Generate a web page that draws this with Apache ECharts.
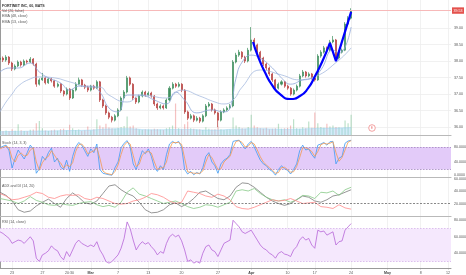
<!DOCTYPE html>
<html><head><meta charset="utf-8">
<script src="https://cdn.jsdelivr.net/npm/echarts@6/dist/echarts.min.js"></script>
<style>html,body{margin:0;padding:0;background:#fff}#c{width:466px;height:275px}</style>
</head><body><div id="c"></div>
<script>
// ---------- data ----------
const slotCount = 150;
const tickIdx = [4,14,23,30,39,49,60,72,83,95,104,116,128,139,148];
const tickLabels = ['23','27','20:30','Mar','7','13','20','27','Apr','10','17','24','May','8','12'];
const monthLabels = ['Mar','Apr','May'];

const opens = [38.05,38.09,38.03,38.12,37.94,37.76,37.85,37.97,37.88,38.00,
37.97,38.06,37.91,37.30,37.43,37.49,37.34,37.46,37.40,37.24,
37.30,37.09,37.00,37.15,36.88,37.12,37.30,37.43,37.27,37.21,
37.12,37.24,37.18,37.37,36.82,36.64,36.43,36.30,36.21,36.34,
36.52,36.88,37.06,37.49,37.30,36.88,36.76,36.94,37.06,36.97,
37.03,36.94,36.70,36.58,36.64,36.58,36.82,37.18,37.30,37.24,
37.30,37.12,36.46,36.27,36.34,36.21,36.27,36.18,36.34,36.64,
36.70,36.52,36.43,36.21,36.46,36.52,36.58,36.64,37.97,38.18,
38.27,38.12,38.00,38.33,38.64,38.49,38.27,38.09,37.91,37.79,
37.61,37.43,37.18,37.30,37.37,37.24,37.18,37.00,37.12,37.24,
37.55,37.67,37.55,37.61,37.49,37.43,38.15,38.27,38.40,38.33,
38.58,38.64,38.09,38.27,38.33,39.12,39.30];
const closes = [38.09,38.03,38.12,37.94,37.76,37.85,37.97,37.88,38.00,37.97,
38.06,37.91,37.30,37.43,37.49,37.34,37.46,37.40,37.24,37.30,
37.09,37.00,37.15,36.88,37.12,37.30,37.43,37.27,37.21,37.12,
37.24,37.18,37.37,36.82,36.64,36.43,36.30,36.21,36.34,36.52,
36.88,37.06,37.49,37.30,36.88,36.76,36.94,37.06,36.97,37.03,
36.94,36.70,36.58,36.64,36.58,36.82,37.18,37.30,37.24,37.30,
37.12,36.46,36.27,36.34,36.21,36.27,36.18,36.34,36.64,36.70,
36.52,36.43,36.21,36.46,36.52,36.58,36.64,37.97,38.18,38.27,
38.12,38.00,38.33,38.64,38.49,38.27,38.09,37.91,37.79,37.61,
37.43,37.18,37.30,37.37,37.24,37.18,37.00,37.12,37.24,37.55,
37.67,37.55,37.61,37.49,37.43,38.15,38.27,38.40,38.33,38.58,
38.64,38.09,38.27,38.33,39.12,39.30,39.53];
const highs = [38.16,38.14,38.18,38.15,37.98,37.90,38.02,38.01,38.05,38.04,
38.12,38.09,37.95,37.48,37.64,37.52,37.50,37.50,37.43,37.35,
37.33,37.12,37.20,37.18,37.16,37.36,37.50,37.46,37.31,37.25,
37.28,37.28,37.42,37.40,36.86,36.68,36.47,36.34,36.39,36.57,
36.93,37.12,37.55,37.53,37.33,36.92,36.98,37.11,37.10,37.08,
37.07,36.97,36.74,36.69,36.68,36.87,37.24,37.36,37.34,37.36,
37.33,37.15,36.50,36.40,36.38,36.33,36.31,36.39,36.70,36.76,
36.73,36.56,36.46,36.51,36.57,36.63,36.70,38.03,38.25,38.34,
38.30,38.16,38.40,39.03,38.70,38.53,38.31,38.13,37.95,37.83,
37.65,37.46,37.35,37.42,37.40,37.28,37.21,37.17,37.29,37.61,
37.73,37.70,37.66,37.64,37.53,38.21,38.33,38.46,38.44,38.64,
38.76,38.67,38.32,38.38,39.18,39.36,39.60];
const lows = [37.99,37.97,37.98,37.88,37.70,37.72,37.82,37.83,37.85,37.92,
37.94,37.86,37.22,37.26,37.40,37.29,37.31,37.35,37.19,37.20,
37.03,36.93,36.96,36.82,36.85,37.08,37.27,37.22,37.15,37.06,
37.08,37.13,37.15,36.76,36.58,36.37,36.24,36.14,36.17,36.30,
36.48,36.84,37.02,37.25,36.82,36.70,36.72,36.90,36.92,36.93,
36.89,36.64,36.52,36.54,36.53,36.55,36.78,37.14,37.19,37.20,
37.06,36.40,36.21,36.23,36.15,36.17,36.12,36.14,36.30,36.60,
36.47,36.38,36.00,36.17,36.42,36.48,36.54,36.60,37.93,38.13,
38.06,37.94,37.96,38.29,38.44,38.21,38.03,37.85,37.73,37.55,
37.37,37.12,37.14,37.26,37.19,37.13,36.95,36.96,37.08,37.20,
37.51,37.50,37.51,37.44,37.38,37.40,38.10,38.23,38.28,38.29,
38.54,38.03,38.05,38.23,38.30,39.08,39.26];
const volumes = [220,180,200,170,260,190,480,210,180,170,
230,250,520,620,300,200,180,210,240,190,
260,280,200,460,300,220,240,180,210,380,
200,260,700,420,350,500,330,300,280,320,
360,400,820,380,420,300,250,220,260,240,
230,280,260,240,220,300,340,420,1400,300,
260,480,600,300,280,240,260,220,340,280,
240,260,380,260,220,240,260,780,420,360,
300,280,360,900,420,340,300,280,320,260,
280,300,500,280,300,320,420,700,300,280,
340,300,600,320,1000,520,360,320,500,380,
420,360,340,300,640,520,900];
const volMA = [[0,150],[10,170],[20,190],[30,220],[36,270],[42,280],[50,230],[60,250],[70,220],[78,260],[85,280],[95,250],[104,290],[110,300],[116,330]];
const ema48 = [[0,36.46],[2,36.76],[4,37.00],[6,37.24],[10,37.46],[13,37.52],[18,37.49],[23,37.37],[30,37.21],[33,37.21],[36,36.97],[42,36.76],[47,36.97],[55,36.88],[60,37.12],[66,36.94],[71,36.76],[74,36.70],[77,36.82],[80,37.21],[86,37.73],[93,37.58],[99,37.43],[104,37.52],[112,38.03],[116,38.40]];
const ema13 = [[0,37.67],[3,37.79],[6,37.79],[10,37.94],[13,37.67],[16,37.49],[20,37.34],[23,37.12],[26,37.24],[30,37.24],[33,37.06],[36,36.58],[39,36.46],[42,36.97],[45,36.97],[48,36.94],[51,36.82],[55,36.70],[58,37.06],[61,36.82],[65,36.43],[70,36.52],[74,36.46],[76,36.58],[78,37.49],[80,37.97],[83,38.18],[86,38.09],[90,37.79],[93,37.49],[96,37.30],[100,37.43],[103,37.49],[106,37.73],[110,38.33],[112,38.24],[116,39.03]];
const cupCurve = [[83.6,38.58],[85.2,38.15],[87.5,37.67],[89.9,37.27],[92.5,37.00],[95.8,36.85],[99.1,36.94],[101.8,37.18],[104.1,37.55],[106.4,37.97],[109.0,38.55]];
const cupHandle = [[109.0,38.55],[111.0,38.00],[116.0,39.49]];
const lastPrice = 39.53;
const priceTicks = [36.00,36.50,37.00,37.50,38.00,38.50,39.00];

const stochK = [78,82,85,70,24,50,72,60,48,65,85,75,10,22,55,45,65,77,40,50,
27,20,45,15,55,80,92,85,70,55,75,65,88,20,10,8,6,5,25,40,
78,90,97,80,35,20,45,70,62,75,55,25,15,30,20,60,88,95,90,95,
80,20,8,15,6,12,8,25,55,65,40,30,10,35,45,50,60,95,97,98,
85,75,88,95,80,62,45,35,30,20,15,5,20,30,22,18,8,20,35,70,
85,72,75,60,50,85,88,92,85,94,95,35,50,55,90,96,98];
const stochD = [75,79,82,78,50,40,58,64,56,58,72,78,40,18,38,50,55,70,58,46,
38,24,32,28,38,68,86,88,78,62,66,70,78,50,16,10,8,6,15,32,
60,84,93,88,58,28,34,58,66,68,64,40,20,24,25,40,74,92,92,92,
87,50,14,12,10,10,10,16,40,60,52,35,20,22,40,48,55,78,95,97,
92,80,82,92,88,72,54,40,32,25,18,10,12,25,26,20,13,14,28,52,
78,78,74,68,55,68,86,90,88,90,94,65,42,52,72,93,97];
const stochTicks = [0,40,80];
const stochBand = [20,80];

// ADX / DI sampled every 2nd slot
const adx = [38,33,24,10,6,8,16,22,27,20,14,28,37,30,21,19,24,36,48,50,
42,36,32,22,10,5,6,10,18,21,15,20,28,38,40,34,28,26,32,46,
53,52,46,38,30,24,20,17,20,26,32,30,24,22,26,32,34,38,42];
const diPlus = [28,26,24,20,24,31,25,22,18,17,20,18,17,20,22,23,18,15,17,14,
22,38,45,35,32,28,24,20,22,24,20,15,12,14,18,17,14,18,22,40,
42,40,44,36,30,26,24,26,22,26,33,32,28,38,37,40,33,42,46];
const diMinus = [36,32,26,27,30,33,38,36,30,28,32,34,33,34,28,26,30,28,24,20,
19,20,24,26,30,36,34,30,24,20,22,40,38,36,32,30,35,32,26,15,
12,11,14,18,22,26,24,25,28,24,20,21,22,15,14,12,18,13,11];
const adxTicks = [20,40,60];
const adxLevel = 20;

const rsi = [66,64,61,58,52,54,56,55,52,56,60,55,34,30,38,40,43,49,45,43,
36,32,42,36,44,52,56,52,50,48,50,48,54,44,38,30,28,30,34,38,
46,58,78,70,56,44,50,54,51,53,48,44,38,42,40,52,60,63,60,62,
55,44,30,32,28,30,28,40,48,50,44,42,36,44,52,54,56,80,76,72,
66,64,66,68,62,56,50,46,44,40,38,34,40,42,39,38,36,44,48,56,
60,56,58,50,46,68,66,67,62,64,66,50,54,55,68,72,76];
const rsiTicks = [40,60,80];
const rsiBand = [30,70];

const titleText = 'FORTINET INC, 60, BATS';
const legendTexts = ['Vol (20, false)','EMA (48, close)','EMA (13, close)'];
const paneTitles = ['Stoch (14, 3, 3)','ADX and DI (14, 20)','RSI (14, close)'];

// ---------- chart ----------
const FONT = 'Liberation Sans, Arial, sans-serif';
const FS = 3.6;
const UP = '#3f8f5e', DOWN = '#b8403f';
const cats = Array.from({length: slotCount}, (_, i) => String(i));
const isTick = (i) => tickIdx.indexOf(i) >= 0;
const indexed = (arr, step) => arr.map((v, j) => [j * (step || 1), v]);

const gridDefs = [
  {top: 0, height: 135},
  {top: 135, height: 42},
  {top: 177, height: 39},
  {top: 216, height: 52}
];
const grid = gridDefs.map(g => ({left: 0, right: 15, top: g.top, height: g.height, outerBoundsMode: 'none', containLabel: false}));

const xAxis = [];
gridDefs.forEach((g, gi) => {
  xAxis.push({
    type: 'category', gridIndex: gi, data: cats, boundaryGap: false,
    axisLine: {show: true, onZero: false, lineStyle: {color: gi === 3 ? '#9a9a9a' : '#b9b9b9', width: gi === 3 ? 1 : 1.2}},
    axisTick: {show: gi === 3, interval: (i) => isTick(i), length: 1.5, lineStyle: {color: '#999', width: 0.6}},
    axisLabel: {show: gi === 3, interval: (i) => isTick(i), margin: 2.5, fontSize: FS, color: '#555', fontFamily: FONT,
      formatter: (v, i) => {
        const t = tickLabels[tickIdx.indexOf(Number(v))] || '';
        return monthLabels.indexOf(t) >= 0 ? '{b|' + t + '}' : t;
      },
      rich: {b: {fontSize: FS, fontWeight: 'bold', color: '#444', fontFamily: FONT}}},
    splitLine: {show: true, interval: (i) => isTick(i), lineStyle: {color: '#ededed', width: 0.8}}
  });
  xAxis.push({type: 'value', gridIndex: gi, min: 0, max: slotCount - 1, show: false});
});

const labelCommon = {fontSize: FS, color: '#555', fontFamily: FONT, margin: 3};
const yAxis = [
  {type: 'value', gridIndex: 0, position: 'right', min: 35.76, max: 39.85, scale: true,
    axisLine: {show: true, lineStyle: {color: '#9a9a9a', width: 1}},
    axisTick: {show: false, customValues: priceTicks},
    axisLabel: Object.assign({customValues: priceTicks, formatter: v => v.toFixed(2)}, labelCommon),
    splitLine: {show: true, lineStyle: {color: '#ededed', width: 0.8}}},
  {type: 'value', gridIndex: 0, min: 0, max: 6000, show: false},
  {type: 'value', gridIndex: 1, position: 'right', min: 0, max: 112,
    axisLine: {show: true, lineStyle: {color: '#9a9a9a', width: 1}},
    axisTick: {show: false, customValues: stochTicks},
    axisLabel: Object.assign({customValues: stochTicks,
      formatter: v => v === 0 ? '{z|' + v.toFixed(4) + '}' : v.toFixed(4),
      rich: {z: {fontSize: FS, color: '#555', fontFamily: FONT, padding: [0, 0, 5, 0]}}}, labelCommon),
    splitLine: {show: false}},
  {type: 'value', gridIndex: 2, position: 'right', min: 0, max: 62.4,
    axisLine: {show: true, lineStyle: {color: '#9a9a9a', width: 1}},
    axisTick: {show: false, customValues: adxTicks},
    axisLabel: Object.assign({customValues: adxTicks, formatter: v => v.toFixed(4)}, labelCommon),
    splitLine: {show: false}},
  {type: 'value', gridIndex: 3, position: 'right', min: 22.1, max: 85.2,
    axisLine: {show: true, lineStyle: {color: '#9a9a9a', width: 1}},
    axisTick: {show: false, customValues: rsiTicks},
    axisLabel: Object.assign({customValues: rsiTicks, formatter: v => v.toFixed(4)}, labelCommon),
    splitLine: {show: false}}
];

const thinLine = (name, xi, yi, data, color, w, extra) => Object.assign({
  name, type: 'line', xAxisIndex: xi, yAxisIndex: yi, data,
  showSymbol: false, symbol: 'none', silent: true,
  lineStyle: {color, width: w}, itemStyle: {color}
}, extra || {});

const series = [
  {name: 'Vol', type: 'bar', xAxisIndex: 0, yAxisIndex: 1, data: volumes, barWidth: '40%', silent: true,
    itemStyle: {color: (p) => closes[p.dataIndex] >= opens[p.dataIndex] ? 'rgba(90,180,120,0.4)' : 'rgba(230,100,100,0.4)'}},
  thinLine('VolMA', 1, 1, volMA, '#9dd3f0', 0.5, {smooth: true, areaStyle: {color: 'rgba(150,208,240,0.6)'}}),
  {name: 'Price', type: 'candlestick', xAxisIndex: 0, yAxisIndex: 0, barWidth: '50%', silent: true,
    data: closes.map((c, i) => [opens[i], c, lows[i], highs[i]]),
    itemStyle: {color: UP, color0: DOWN, borderColor: UP, borderColor0: DOWN, borderWidth: 0.7},
    markLine: {silent: true, symbol: ['none', 'none'], animation: false,
      lineStyle: {color: '#f7b9b9', width: 1, type: 'solid'},
      label: {show: true, position: 'end', distance: 1, formatter: lastPrice.toFixed(2), color: '#fff',
        backgroundColor: '#e4514c', padding: [1.2, 1.5], fontSize: FS, fontFamily: FONT},
      data: [{yAxis: lastPrice}]}},
  thinLine('EMA48', 1, 0, ema48, '#a7bbe0', 0.8, {smooth: 0.5}),
  thinLine('EMA13', 1, 0, ema13, '#8ea7d8', 0.8, {smooth: 0.5}),
  thinLine('Cup', 1, 0, cupCurve, '#0000ff', 2.2, {smooth: 0.6, z: 5}),
  thinLine('Handle', 1, 0, cupHandle, '#0000ff', 2.2, {z: 5}),

  thinLine('%K', 3, 2, indexed(stochK), '#3d9bf2', 0.8, {
    markArea: {silent: true, itemStyle: {color: '#e3cbf9'}, data: [[{yAxis: stochBand[0]}, {yAxis: stochBand[1]}]]},
    markLine: {silent: true, symbol: ['none', 'none'], label: {show: false},
      lineStyle: {color: '#9a80b5', width: 0.7, type: [1.5, 1.5]},
      data: [{yAxis: stochBand[0]}, {yAxis: stochBand[1]}]}}),
  thinLine('%D', 3, 2, indexed(stochD), '#f29a52', 0.8),

  thinLine('ADX', 5, 3, indexed(adx, 2), '#7b7b7b', 0.8, {
    markLine: {silent: true, symbol: ['none', 'none'], label: {show: false},
      lineStyle: {color: '#555', width: 0.7, type: [2, 1.5]}, data: [{yAxis: adxLevel}]}}),
  thinLine('+DI', 5, 3, indexed(diPlus, 2), '#86c986', 0.8),
  thinLine('-DI', 5, 3, indexed(diMinus, 2), '#ff8a8a', 0.8),

  thinLine('RSI', 7, 4, indexed(rsi), '#b664d8', 0.8, {
    markArea: {silent: true, itemStyle: {color: '#f5e8fd'}, data: [[{yAxis: rsiBand[0]}, {yAxis: rsiBand[1]}]]},
    markLine: {silent: true, symbol: ['none', 'none'], label: {show: false},
      lineStyle: {color: '#cfa9e6', width: 0.7, type: [1.5, 1.5]},
      data: [{yAxis: rsiBand[0]}, {yAxis: rsiBand[1]}]}})
];

const txt = (text, x, y, bold, color) => ({type: 'text', x, y, z: 100, silent: true,
  style: {text, fontSize: FS, fontWeight: bold ? 'bold' : 'normal', fontFamily: FONT, fill: color, verticalAlign: 'middle', align: 'left'}});

const graphic = [
  txt(titleText, 2, 5.7, true, '#333'),
  txt(legendTexts[0], 2, 10.8, false, '#555'),
  txt(legendTexts[1], 2, 16.1, false, '#555'),
  txt(legendTexts[2], 2, 21.6, false, '#555'),
  txt(paneTitles[0], 2, 143.3, false, '#555'),
  txt(paneTitles[1], 2, 186, false, '#555'),
  txt(paneTitles[2], 2, 222.3, false, '#555'),
  {type: 'circle', z: 100, silent: true, shape: {cx: 372, cy: 128, r: 3.3}, style: {fill: '#fff', stroke: '#f08a8a', lineWidth: 0.8}},
  {type: 'text', z: 101, silent: true, x: 372, y: 128, style: {text: 'E', fontSize: 3.6, fontFamily: FONT, fill: '#ee7d7d', align: 'center', verticalAlign: 'middle'}}
];

const chart = echarts.init(document.getElementById('c'), null, {renderer: 'canvas', width: 466, height: 275});
chart.setOption({
  animation: false,
  backgroundColor: '#ffffff',
  textStyle: {fontFamily: FONT},
  grid, xAxis, yAxis, series, graphic
});
</script>
</body></html>
